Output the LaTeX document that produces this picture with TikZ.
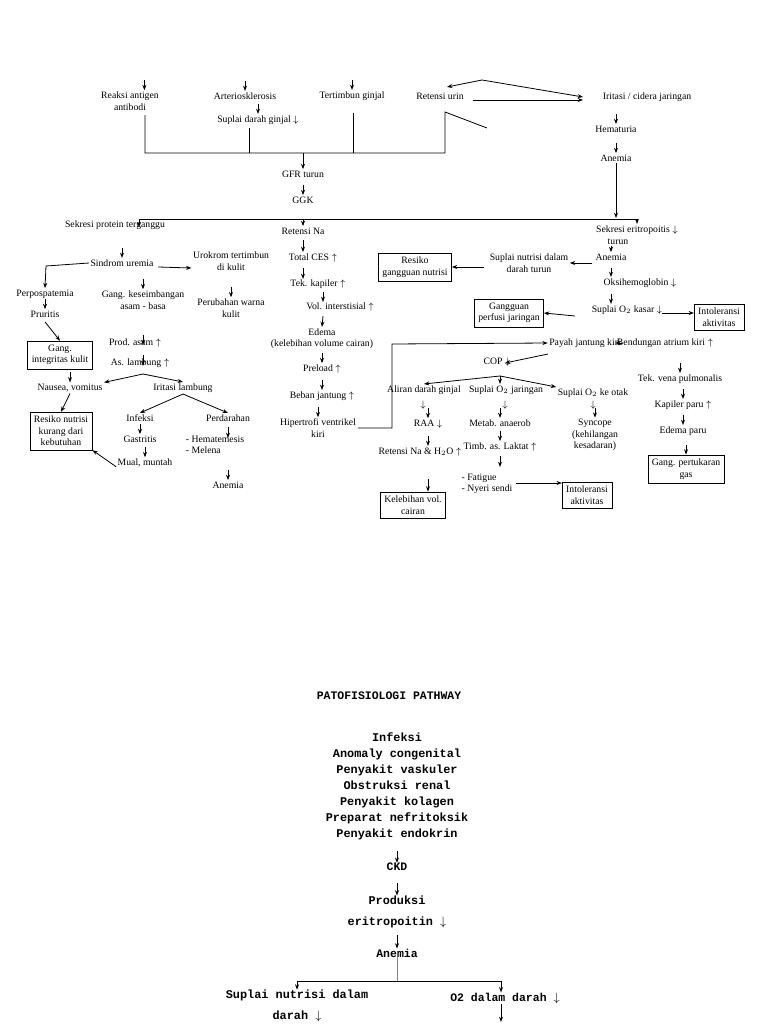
\documentclass[tikz,border=0pt]{standalone}
\usepackage{fontspec}
\setmainfont{Liberation Serif}
\newfontfamily\mono{Liberation Mono}
\usetikzlibrary{arrows.meta}
\begin{document}
\begin{tikzpicture}[x=0.75pt,y=-0.75pt,
 every node/.style={inner sep=1pt,align=center,font=\fontsize{7.3}{8.6}\selectfont},
 bx/.style={draw,inner sep=3pt},
 mn/.style={font=\mono\bfseries\fontsize{8.6}{12}\selectfont,inner sep=0pt},
 ar/.style={-{Stealth[length=4pt,width=3pt]},semithick},
 ln/.style={semithick}]
\newcommand\sa[1]{\draw[ar] ([yshift=7.5pt]#1.north) -- (#1.north);}
\useasboundingbox (0,0) rectangle (768,1024);
% top row
\node (rak) at (130,101) {Reaksi antigen\\antibodi};
\node (art) at (245,96) {Arteriosklerosis};
\node (sdg) at (258,120) {Suplai darah ginjal $\downarrow$};
\node (tg) at (352,96) {Tertimbun ginjal};
\node (ru) at (440,96) {Retensi urin};
\node (ir) at (647,97) {Iritasi / cidera jaringan};
\node (hem) at (616,129) {Hematuria};
\node (an1) at (616,158) {Anemia};
\sa{art}\sa{sdg}\sa{tg}\sa{hem}\sa{an1}
\draw[ar] ([yshift=7.5pt]rak.north east) ++(-16,0) -- ++(0,10);
\coordinate (b1l) at (145,153); \coordinate (b1r) at (445,153);
\draw[ln] (145,115) -- (b1l) -- (b1r) -- (445,112) -- (487,128);
\draw[ln] (249,128) -- (249,153);
\draw[ln] (353,113) -- (353,153);
\draw[ar] (473,100) -- (583,100);
\draw[{Stealth[length=4pt,width=3pt]}-{Stealth[length=4pt,width=3pt]},semithick] (447,87) -- (482,80) -- (583,97);
\node (gfr) at (303,174) {GFR turun};
\node (ggk) at (303,200) {GGK};
\draw[ar] (303,153) -- (gfr.north); \sa{ggk}
\draw[ln] (139,219) -- (637,219);
\draw[ar] (an1.south) -- (616,218);
\node (spt) at (115,225) {Sekresi protein terganggu};
\node (rna) at (303,231) {Retensi Na};
\node (se) at (637,230) {Sekresi eritropoitis $\downarrow$};
\node (tur) at (618,242) {turun};
\draw[ar] (139,219) -- (139,227);
\draw[ar] (303,219) -- (rna.north);
\draw[ar] (637,219) -- (se.north);
% left column
\node (su) at (122,263) {Sindrom uremia};
\node (uro) at (231,261) {Urokrom tertimbun\\di kulit};
\node (per) at (45,294) {Perpospatemia};
\node (pru) at (45,314) {Pruritis};
\node[bx] (gik) at (60,355) {Gang.\\integritas kulit};
\node (gka) at (143,300) {Gang. keseimbangan\\asam - basa};
\node (pwk) at (231,308) {Perubahan warna\\kulit};
\node (pa) at (135,343) {Prod. asam $\uparrow$};
\node (al) at (140,363) {As. lambung $\uparrow$};
\node (nv) at (70,388) {Nausea, vomitus};
\node (il) at (183,388) {Iritasi lambung};
\node[bx] (rnk) at (61,431) {Resiko nutrisi\\kurang dari\\kebutuhan};
\node (inf) at (140,418) {Infeksi};
\node (prd) at (228,418) {Perdarahan};
\node (gas) at (140,439) {Gastritis};
\node (mm) at (145,463) {Mual, muntah};
\node[align=left] (hm) at (215,445) {- Hematemesis\\- Melena};
\node (an2) at (228,485) {Anemia};
\sa{su}\sa{pru}\sa{gka}\sa{pwk}\sa{gas}\sa{mm}\sa{an2}\sa{nv}
\draw[ar] (su.east)++(3,4) -- (uro.west|-0,268);
\draw[ar] (su.west) -- (46,266) -- (per.north);
\draw[ar] (pru.south) ++(0,3) -- (gik.north);
\draw[ar] (143,335) -- (143,345);
\draw[ar] (143,355) -- (143,366);
\draw[ar] (143,374) -- (nv.north east);
\draw[ar] (143,374) -- (il.north);
\draw[ar] (nv.south) -- (rnk.north);
\draw[ar] (il.south) -- (inf.north);
\draw[ar] (il.south) -- (prd.north);
\draw[ar] (228,427) -- (228,438);
\draw[ar] (mm.south west) ++(0,-2) -- (rnk.south east);
% middle column
\node (ces) at (313,258) {Total CES $\uparrow$};
\node (tk) at (318,284) {Tek. kapiler $\uparrow$};
\node (vi) at (340,307) {Vol. interstisial $\uparrow$};
\node (ed) at (322,332) {Edema};
\node (kvc) at (322,344) {(kelebihan volume cairan)};
\node (pl) at (322,369) {Preload $\uparrow$};
\node (bj) at (322,396) {Beban jantung $\uparrow$};
\node (hvk) at (318,428) {Hipertrofi ventrikel\\kiri};
\draw[ar] (303,240) -- (303,252);
\draw[ar] (303,268) -- (303,279);
\draw[ar] (323,292) -- (323,302);
\draw[ar] (323,316) -- (ed.north);
\sa{pl}\sa{bj}\sa{hvk}
\node (pjk) at (585,343) {Payah jantung kiri};
\node (bak) at (665,343) {Bendungan atrium kiri $\uparrow$};
\draw[ar] (hvk.east) -- (392,428) -- (392,344) -- (pjk.west);
\draw[ar] (pjk.east) -- (bak.west);
\node (cop) at (497,362) {COP $\downarrow$};
\draw[ar] (548,354) -- (505,363);
\node (adg) at (424,390) {Aliran darah ginjal};
\node (soj) at (506,390) {Suplai O$_2$ jaringan};
\node (sok) at (593,393) {Suplai O$_2$ ke otak};
\coordinate (cb) at (500,376);
\draw[ar] (cb) -- (adg.north);
\draw[ar] (cb) -- (soj.north-|cb);
\draw[ar] (cb) -- (sok.north west);
\node (d1) at (423,405) {$\downarrow$};
\node (d2) at (505,405) {$\downarrow$};
\node (d3) at (593,405) {$\downarrow$};
\node (raa) at (428,424) {RAA $\downarrow$};
\node (ma) at (500,423) {Metab. anaerob};
\node (syn) at (595,435) {Syncope\\(kehilangan\\kesadaran)};
\node (rnh) at (420,452) {Retensi Na \& H$_2$O $\uparrow$};
\node (tal) at (500,447) {Timb. as. Laktat $\uparrow$};
\node[align=left] (fat) at (487,484) {- Fatigue\\- Nyeri sendi};
\node[bx] (ia2) at (587,495) {Intoleransi\\aktivitas};
\node[bx] (kvl) at (413,505) {Kelebihan vol.\\cairan};
\sa{raa}\sa{ma}\sa{syn}\sa{tal}
\draw[ar] (428,436) -- (428,446);
\draw[ar] (500,456) -- (500,467);
\draw[ar] (fat.east) ++(2,-1) -- (ia2.west|-0,483);
\draw[ar] (428,479) -- (kvl.north-|428,0);
% right column
\node (tvp) at (680,379) {Tek. vena pulmonalis};
\node (kp) at (683,405) {Kapiler paru $\uparrow$};
\node (ep) at (683,431) {Edema paru};
\node[bx] (gpg) at (686,469) {Gang. pertukaran\\gas};
\sa{tvp}\sa{kp}\sa{ep}\sa{gpg}
\node (an3) at (611,257) {Anemia};
\node (ohb) at (640,283) {Oksihemoglobin $\downarrow$};
\node (sok2) at (627,310) {Suplai O$_2$ kasar $\downarrow$};
\draw[ar] (611,246) -- (an3.north);
\draw[ar] (611,268) -- (611,277);
\draw[ar] (611,294) -- (611,304);
\node[bx] (gpj) at (509,313) {Gangguan\\perfusi jaringan};
\node[bx] (ia1) at (719,317) {Intoleransi\\aktivitas};
\draw[ar] (575,316) -- (gpj.east);
\draw[ar] (662,313) -- (ia1.west|-0,313);
\node (snd) at (529,263) {Suplai nutrisi dalam\\darah turun};
\node[bx] (rgn) at (415,267) {Resiko\\gangguan nutrisi};
\draw[ar] (592,263) -- (snd.east);
\draw[ar] (snd.west)++(-4,4) -- (rgn.east);
% bottom
\node[mn] (tit) at (389,696) {PATOFISIOLOGI PATHWAY};
\node[mn,align=center,font=\mono\bfseries\fontsize{8.9}{12}\selectfont] (lst) at (397,786) {Infeksi\\Anomaly congenital\\Penyakit vaskuler\\Obstruksi renal\\Penyakit kolagen\\Preparat nefritoksik\\Penyakit endokrin};
\node[mn] (ckd) at (397,867) {CKD};
\node[mn,align=center,font=\mono\bfseries\fontsize{8.9}{16}\selectfont] (pe) at (397,912) {Produksi\\eritropoitin $\downarrow$};
\node[mn] (an4) at (397,953) {Anemia};
\node[mn,align=center,font=\mono\bfseries\fontsize{8.9}{16}\selectfont] (snb) at (297,1006) {Suplai nutrisi dalam\\darah $\downarrow$};
\node[mn] (o2) at (505,998) {O2 dalam darah $\downarrow$};
\draw[ar] (397,851) -- (ckd.north);
\draw[ar] (397,883) -- (pe.north);
\draw[ar] (397,935) -- (an4.north);
\draw[ln,gray] (an4.south) -- (397,981);
\draw[ln] (297,981) -- (501,981);
\draw[ar] (297,981) -- (snb.north);
\draw[ar] (501,981) -- (o2.north-|501,0);
\draw[ar] (o2.south-|501,0) -- (501,1022);
\end{tikzpicture}
\end{document}
